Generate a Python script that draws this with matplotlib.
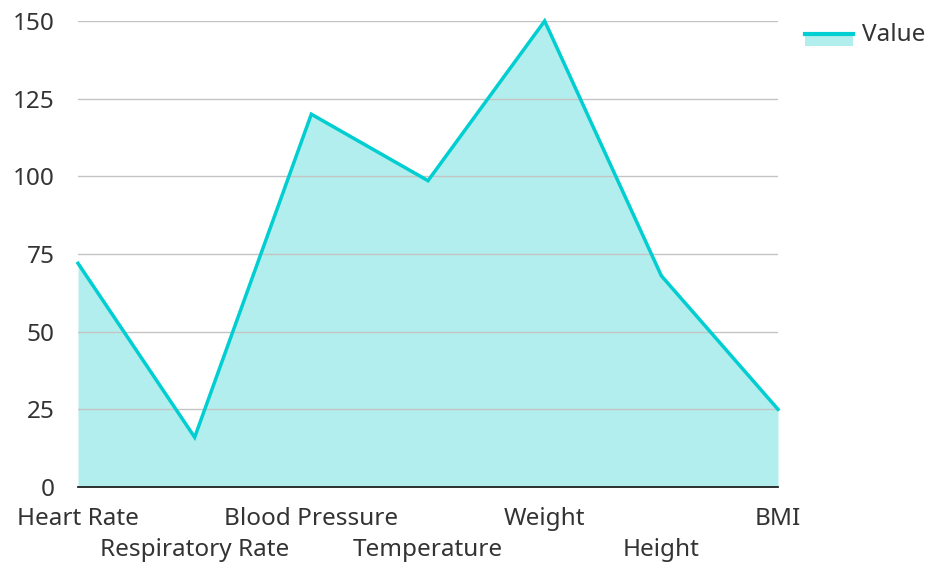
import matplotlib
matplotlib.use("Agg")
import matplotlib.pyplot as plt
from matplotlib.patches import Rectangle
from matplotlib.lines import Line2D

categories = ["Heart Rate", "Respiratory Rate", "Blood Pressure", "Temperature",
              "Weight", "Height", "BMI"]
values = [72, 16, 120, 98.6, 150, 68, 25]
yticks = [0, 25, 50, 75, 100, 125, 150]
series_name = "Value"

line_color = "#00CED1"
fill_color = "#B2EEEE"
text_color = "#333333"
fs = 17.5

plt.rcParams['font.family'] = ['Noto Sans', 'DejaVu Sans']

fig = plt.figure(figsize=(9.28, 5.62), dpi=100)
ax = fig.add_axes([78/928, 75/562, 700/928, 466/562])

x = list(range(len(categories)))
ax.fill_between(x, values, 0, color=fill_color, linewidth=0, zorder=1)
ax.plot(x, values, color=line_color, linewidth=2.5, zorder=3, solid_joinstyle='miter',
        clip_on=False)

ax.set_xlim(0, len(categories) - 1)
ax.set_ylim(0, 150)
ax.set_yticks(yticks)
ax.set_yticklabels([str(v) for v in yticks])
ax.grid(axis='y', color='#c4c4c4', linewidth=1, zorder=2)
ax.set_axisbelow(False)
for s in ['top', 'right', 'left']:
    ax.spines[s].set_visible(False)
ax.spines['bottom'].set_color('#222222')
ax.spines['bottom'].set_linewidth(1.3)
ax.spines['bottom'].set_zorder(4)

ax.tick_params(axis='y', length=0, pad=17, labelsize=fs, labelcolor=text_color)
ax.set_xticks(x)
ax.set_xticklabels([])
ax.tick_params(axis='x', length=0)
for i, c in enumerate(categories):
    dy = -32 if i % 2 == 0 else -63
    ax.annotate(c, xy=(i, 0), xycoords=('data', 'axes fraction'),
                xytext=(0, dy), textcoords='offset pixels',
                ha='center', va='center', fontsize=fs, color=text_color)

# legend
fig.add_artist(Rectangle((805/928, 1 - 46/562), 48/928, 13/562,
                         transform=fig.transFigure, facecolor=fill_color,
                         edgecolor='none'))
fig.add_artist(Line2D([805/928, 853/928], [1 - 34/562, 1 - 34/562],
                      transform=fig.transFigure, color=line_color, linewidth=3))
fig.text(862/928, 1 - 35/562, series_name, fontsize=fs, color=text_color,
         ha='left', va='center')

fig.savefig("out.png", dpi=100)
